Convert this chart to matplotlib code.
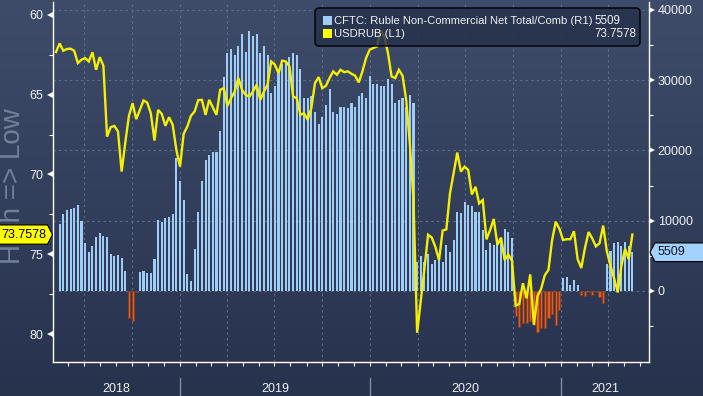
import numpy as np
import pandas as pd
import matplotlib
matplotlib.use("Agg")
import matplotlib.pyplot as plt
import matplotlib.dates as mdates
import matplotlib.transforms as mtransforms
from matplotlib.patches import Polygon, FancyBboxPatch, Rectangle
from matplotlib.lines import Line2D
from matplotlib.colors import LinearSegmentedColormap
from matplotlib.ticker import FixedLocator, NullFormatter
from datetime import datetime

plt.rcParams['font.family'] = ['Liberation Sans', 'DejaVu Sans']

# ---------------- data ----------------
cftc_dates = pd.date_range('2018-05-15', periods=158, freq='7D')
cftc_net = [9500, 10900, 11500, 11700, 11800, 12200, 10000, 6800, 5500, 6400,
            7700, 8200, 7800, 7700, 5200, 5000, 5100, 4700, 2800, -3900,
            -4200, -100, 2700, 2800, 2600, 2600, 4500, 10100, 9800, 10400,
            10500, 10900, 18900, 15700, 13000, 2400, 1400, 6000, 11300, 15700,
            18600, 19300, 19700, 19700, 22800, 30500, 33800, 34400, 33600, 34800,
            36500, 34000, 37000, 36200, 36600, 33800, 34800, 33600, 28100, 29100,
            31200, 32300, 32500, 33300, 33800, 33600, 31600, 27400, 27500, 27800,
            25400, 23800, 24800, 26500, 28700, 25400, 25200, 26100, 26100, 26000,
            26700, 26100, 27700, 28200, 27500, 30600, 29500, 29400, 29100, 29200,
            30100, 29500, 26700, 27100, 27400, 26200, 27900, 26800, 4100, 5000,
            4100, 5200, 3800, 4400, 4700, 4100, 6500, 5500, 7200, 11300,
            11100, 12600, 12200, 12100, 11200, 11200, 8700, 5800, 6800, 6500,
            7500, 7600, 8800, 8400, 7600, -3500, -5100, -4600, -4600, -4300,
            -4800, -5800, -5300, -5300, -3900, -3300, -4800, -2700, 1900, 2000,
            900, 1600, 900, -600, -700, -100, -500, -200, -900, -1700,
            3900, 5700, 6800, 7000, 6400, 7000, 6400, 5509]

usdrub_dates = pd.date_range('2018-05-08', periods=159, freq='7D')
usdrub = [62.34, 61.8, 62.26, 62.15, 62.13, 62.26, 63.03, 62.82, 62.72, 62.93,
          62.36, 63.45, 62.66, 63.2, 67.63, 67.04, 66.96, 67.31, 69.82, 68.0,
          66.33, 65.54, 66.54, 65.96, 65.37, 65.5, 66.17, 67.88, 65.96, 66.21,
          66.96, 66.42, 66.9, 68.46, 69.51, 67.46, 67.0, 66.33, 66.06, 65.35,
          65.33, 66.27, 65.33, 65.8, 66.27, 64.70, 64.60, 65.71, 65.22, 64.81,
          63.97, 64.70, 65.02, 65.12, 64.81, 64.39, 65.33, 64.81, 64.39, 62.93,
          63.13, 63.66, 62.88, 62.93, 63.24, 65.12, 65.22, 66.27, 66.17, 66.58,
          65.85, 64.28, 63.91, 64.60, 64.45, 63.97, 63.55, 63.76, 63.45, 63.6,
          63.55, 63.70, 63.82, 64.24, 63.55, 62.72, 62.19, 62.09, 61.99, 61.0,
          61.36, 62.40, 63.87, 63.97, 63.45, 63.82, 65.33, 68.05, 71.6, 79.9,
          77.9, 75.9, 73.77, 73.94, 74.53, 75.36, 73.5, 73.44, 71.18, 69.93,
          68.63, 69.82, 69.51, 69.72, 71.25, 70.77, 71.81, 71.6, 74.06, 73.48,
          72.78, 74.4, 73.95, 75.36, 75.0, 75.4, 78.2, 78.1, 76.8, 77.75,
          76.25, 79.4, 77.6, 77.15, 76.3, 75.97, 74.1, 72.96, 73.4, 74.1,
          74.05, 74.05, 73.55, 75.3, 75.85, 74.6, 73.6, 74.0, 74.5, 74.3,
          73.2, 74.8, 75.7, 76.5, 77.38, 75.7, 74.65, 75.3, 73.7578]

left_ticks = [60, 65, 70, 75, 80]
left_minor = [62.5, 67.5, 72.5, 77.5]
right_ticks = [0, 10000, 20000, 30000, 40000]
right_minor = [-5000, 5000, 15000, 25000, 35000]
years = [2018, 2019, 2020, 2021]
legend_labels = ["CFTC: Ruble Non-Commercial Net Total/Comb (R1)", "USDRUB (L1)"]
legend_values = ["5509", "73.7578"]
last_cftc_label = "5509"
last_usdrub_label = "73.7578"

# ---------------- style ----------------
W, H = 703, 396
BAR_POS = '#9fcdf6'
BAR_NEG = '#e35d1e'
LINE_C = '#f5ef00'
TXT = '#eef1f5'
GRID_C = '#5d7192'

fig = plt.figure(figsize=(W / 100, H / 100), dpi=100)

# background gradient
bg = fig.add_axes([0, 0, 1, 1], zorder=-10)
cmap = LinearSegmentedColormap.from_list('bg', ['#3e4c6a', '#27324d'])
bg.imshow(np.linspace(0, 1, 256).reshape(-1, 1), aspect='auto', cmap=cmap,
          extent=[0, 1, 0, 1], origin='upper')
bg.set_axis_off()

# pixel transform (x from left, y from bottom, in pixels)
pix = mtransforms.Affine2D().scale(1 / W, 1 / H) + fig.transFigure

L, R, T, B = 53, 649, 2, 362
ax = fig.add_axes([L / W, 1 - B / H, (R - L) / W, (B - T) / H])
ax.patch.set_alpha(0)
axl = ax.twinx()
ax.yaxis.tick_right()
ax.yaxis.set_label_position('right')
axl.yaxis.tick_left()
axl.yaxis.set_label_position('left')

xmin = datetime(2018, 5, 2, 7)
xmax = datetime(2021, 6, 18, 22)
ax.set_xlim(xmin, xmax)
ax.set_ylim(-10100, 41100)
axl.set_ylim(81.73, 59.21)

# bars
net = np.array(cftc_net, dtype=float)
pos = net >= 0
ax.bar(cftc_dates[pos], net[pos], width=4.0, color=BAR_POS, linewidth=0, zorder=2)
ax.bar(cftc_dates[~pos], net[~pos], width=4.0, color=BAR_NEG, edgecolor='#8a3a1c',
       linewidth=0.5, zorder=2)

# line
axl.plot(usdrub_dates, usdrub, color=LINE_C, lw=1.7, zorder=3, solid_joinstyle='miter')

# grid & ticks
ax.set_axisbelow(True)
ax.yaxis.set_major_locator(FixedLocator(right_ticks))
ax.yaxis.set_minor_locator(FixedLocator(right_minor))
ax.xaxis.set_major_locator(mdates.MonthLocator(bymonth=[1, 4, 7, 10]))
ax.xaxis.set_minor_locator(mdates.MonthLocator())
ax.xaxis.set_major_formatter(NullFormatter())
ax.xaxis.set_minor_formatter(NullFormatter())
ax.grid(True, which='major', axis='both', color=GRID_C, linestyle=(0, (2, 3)), lw=0.8)

ax.tick_params(axis='x', which='both', direction='out', length=3, width=0.8,
               color='white', labelbottom=False)
ax.tick_params(axis='y', which='major', length=0, pad=6.2, labelsize=9,
               labelcolor=TXT)
ax.tick_params(axis='y', which='minor', direction='out', length=3, width=0.8,
               color='white')
ax.set_yticklabels([str(t) for t in right_ticks])

axl.yaxis.set_major_locator(FixedLocator(left_ticks))
axl.yaxis.set_minor_locator(FixedLocator(left_minor))
axl.set_yticklabels([str(t) for t in left_ticks])
axl.tick_params(axis='y', which='major', length=0, pad=7.0, labelsize=9,
                labelcolor=TXT)
axl.tick_params(axis='y', which='minor', direction='out', length=3, width=0.8,
                color='white')

for s in ['left', 'top']:
    ax.spines[s].set_visible(False)
for s in ['right', 'bottom']:
    ax.spines[s].set_color('white')
    ax.spines[s].set_linewidth(1.0)
for s in ['right', 'top', 'bottom']:
    axl.spines[s].set_visible(False)
axl.spines['left'].set_color('white')
axl.spines['left'].set_linewidth(1.0)

# triangle tick markers
tri_l = mtransforms.blended_transform_factory(axl.transAxes, axl.transData)
axl.plot([-3.2 / (R - L)] * len(left_ticks), left_ticks, linestyle='none', marker='<',
         ms=4.5, color='white', mew=0, transform=tri_l, clip_on=False, zorder=5)
tri_r = mtransforms.blended_transform_factory(ax.transAxes, ax.transData)
ax.plot([1 + 3.2 / (R - L)] * len(right_ticks), right_ticks, linestyle='none', marker='>',
        ms=4.5, color='white', mew=0, transform=tri_r, clip_on=False, zorder=5)

# year labels and separators
xt = mtransforms.blended_transform_factory(ax.transData, ax.transAxes)
lo, hi = mdates.date2num(xmin), mdates.date2num(xmax)
for y in years:
    a = max(mdates.date2num(datetime(y, 1, 1)), lo)
    b = min(mdates.date2num(datetime(y + 1, 1, 1)), hi)
    ax.text((a + b) / 2, -(389 - B) / (B - T), str(y), transform=xt, ha='center',
            va='center', fontsize=9, color=TXT)
    if y > years[0]:
        xs = mdates.date2num(datetime(y, 1, 1))
        ax.add_line(Line2D([xs, xs], [-(378 - B) / (B - T), -(397 - B) / (B - T)],
                           transform=xt, color='#7f8ca3', lw=1.0, clip_on=False))

# left axis title
fig.text(13 / W, 1 - 186 / H, "High => Low", rotation=90, ha='center', va='center',
         fontsize=20, color='#728099')

# legend (manual, Bloomberg style)
def P(x, ytop):
    return (x, H - ytop)

leg = FancyBboxPatch(P(315, 46), 325, 38, boxstyle='round,pad=0,rounding_size=4',
                     transform=pix, facecolor='#25304a', alpha=0.82, edgecolor='none',
                     zorder=6)
fig.add_artist(leg)
leg_edge = FancyBboxPatch(P(315, 46), 325, 38, boxstyle='round,pad=0,rounding_size=4',
                          transform=pix, facecolor='none', edgecolor='black', lw=1.0,
                          zorder=6)
fig.add_artist(leg_edge)
fig.add_artist(Rectangle(P(322.5, 25.2), 9, 9.5, transform=pix, facecolor=BAR_POS,
                         edgecolor='none', zorder=7))
fig.add_artist(Rectangle(P(322.5, 38), 9, 9.5, transform=pix, facecolor='#ffff00',
                         edgecolor='none', zorder=7))
for k, (lab, val) in enumerate(zip(legend_labels, legend_values)):
    yy = 21 + 13 * k
    fig.text(334 / W, 1 - yy / H, lab, ha='left', va='center', fontsize=8.1, color=TXT,
             zorder=8)
    fig.text(594 / W, 1 - yy / H, val, ha='left', va='center', fontsize=8.4, color=TXT,
             zorder=8)

# last-value tags
vl = usdrub[-1]
tl = mtransforms.blended_transform_factory(pix, axl.transData)
hl = 9.6 / 15.98
fig.add_artist(Polygon([(-3, vl - hl), (47.5, vl - hl), (52.5, vl), (47.5, vl + hl),
                        (-3, vl + hl)], closed=True, transform=tl, facecolor='#ffff00',
                       edgecolor='black', lw=0.8, zorder=9))
t1 = fig.text(0, 0, last_usdrub_label, transform=tl, ha='right', va='center', fontsize=9,
              color='black', zorder=10)
t1.set_position((46, vl))

vr = cftc_net[-1]
tr = mtransforms.blended_transform_factory(pix, ax.transData)
hr = 9.3 / 7.03 * 1000
fig.add_artist(Polygon([(650, vr), (655, vr - hr), (707, vr - hr), (707, vr + hr),
                        (655, vr + hr)], closed=True, transform=tr, facecolor='#a2d2ff',
                       edgecolor='black', lw=0.8, zorder=9))
t2 = fig.text(0, 0, last_cftc_label, transform=tr, ha='left', va='center', fontsize=9,
              color='#101828', zorder=10)
t2.set_position((657.5, vr))

fig.savefig('out.png', dpi=100)
